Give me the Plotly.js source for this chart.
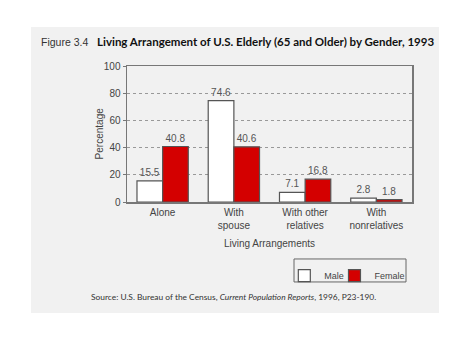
<!DOCTYPE html>
<html>
<head>
<meta charset="utf-8">
<script src="https://cdn.plot.ly/plotly-3.0.1.min.js"></script>
<style>
html,body{margin:0;padding:0;background:#ffffff;}
#panel{position:absolute;left:31px;top:27px;width:408px;height:286px;background:#f1f1f1;}
#chart{position:absolute;left:0;top:0;width:474px;height:355px;}
</style>
</head>
<body>
<div id="panel"></div>
<div id="chart"></div>
<script>
const categories = ["Alone", "With<br>spouse", "With other<br>relatives", "With<br>nonrelatives"];
const maleValues = [15.5, 74.6, 7.1, 2.8];
const femaleValues = [40.8, 40.6, 16.8, 1.8];
const yTicks = [0, 20, 40, 60, 80, 100];

const labelFont = {family: "Liberation Sans, Arial, sans-serif", size: 10, color: "#444"};
const legendFont = {family: "Liberation Sans, Arial, sans-serif", size: 9, color: "#444"};

const traces = [
  {
    type: "bar", name: "Male", x: categories, y: maleValues, legend: "legend",
    marker: {color: "#ffffff", line: {color: "#555", width: 1.2}},
    text: maleValues.map(v => v.toFixed(1)), textposition: "outside",
    textfont: {family: labelFont.family, size: 10, color: "#555"},
    cliponaxis: false
  },
  {
    type: "bar", name: "Female", x: categories, y: femaleValues, legend: "legend2",
    marker: {color: "#d40000", line: {color: "#555", width: 1.2}},
    text: femaleValues.map(v => v.toFixed(1)), textposition: "outside",
    textfont: {family: labelFont.family, size: 10, color: "#555"},
    cliponaxis: false
  }
];

const layout = {
  width: 474, height: 355,
  margin: {l: 127, r: 62, t: 66, b: 153, autoexpand: false},
  paper_bgcolor: "rgba(0,0,0,0)",
  plot_bgcolor: "rgba(0,0,0,0)",
  barmode: "group",
  bargap: 0.28,
  bargroupgap: 0,
  showlegend: true,
  legend: {
    orientation: "h", x: 0.552, y: -0.435, xanchor: "left", yanchor: "top",
    bgcolor: "rgba(0,0,0,0)", borderwidth: 0, font: legendFont, itemwidth: 30
  },
  legend2: {
    orientation: "h", x: 0.728, y: -0.435, xanchor: "left", yanchor: "top",
    bgcolor: "rgba(0,0,0,0)", borderwidth: 0, font: legendFont, itemwidth: 30
  },
  shapes: [
    {type: "rect", xref: "paper", yref: "paper", x0: 0.586, x1: 0.979, y0: -0.588, y1: -0.419,
     line: {color: "#666", width: 1}, fillcolor: "#f1f1f1", layer: "below"}
  ],
  xaxis: {
    range: [-0.5, 3.5], showline: true, mirror: true, linecolor: "#777", linewidth: 1.5,
    ticks: "", tickfont: labelFont, showgrid: false,
    title: {text: "Living Arrangements", font: labelFont, standoff: 10}
  },
  yaxis: {
    range: [0, 100], tickvals: yTicks, showline: true, mirror: true, linecolor: "#777", linewidth: 1.5,
    ticks: "outside", ticklen: 3, tickcolor: "#777", tickfont: labelFont,
    showgrid: true, gridcolor: "#999", griddash: "dot", gridwidth: 1, zeroline: false
  },
  annotations: [
    {xref: "paper", yref: "paper", x: -0.095, y: 0.504, xanchor: "center", yanchor: "middle", showarrow: false,
     textangle: -90, text: "Percentage", font: labelFont},
    {xref: "paper", yref: "paper", x: -0.309, y: 1.18, xanchor: "left", yanchor: "middle", showarrow: false,
     text: "Figure 3.4", font: {family: "Liberation Sans, sans-serif", size: 10.5, color: "#333"}},
    {xref: "paper", yref: "paper", x: -0.113, y: 1.18, xanchor: "left", yanchor: "middle", showarrow: false,
     text: "<b>Living Arrangement of U.S. Elderly (65 and Older) by Gender, 1993</b>",
     font: {family: "Lato, sans-serif", size: 11.5, color: "#111"}},
    {xref: "paper", yref: "paper", x: 0.372, y: -0.7, xanchor: "center", yanchor: "middle", showarrow: false,
     text: "Source: U.S. Bureau of the Census, <i>Current Population Reports</i>, 1996, P23-190.",
     font: {family: "Lato, sans-serif", size: 8.4, color: "#333"}}
  ]
};

Plotly.newPlot("chart", traces, layout, {displayModeBar: false, staticPlot: true});
</script>
</body>
</html>
